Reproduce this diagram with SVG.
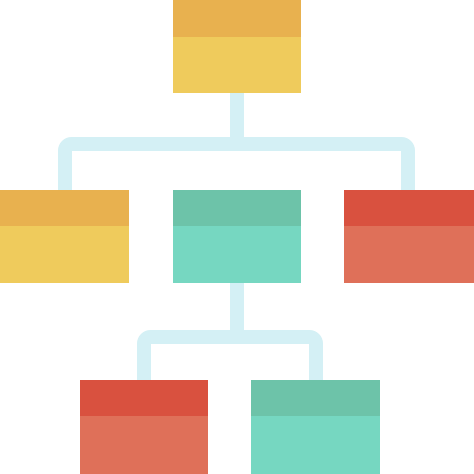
<svg xmlns="http://www.w3.org/2000/svg" width="474" height="474" viewBox="0 0 474 474">
<style>
.c{fill:none;stroke:#D4F0F5;stroke-width:14}
.oh{fill:#E8B14F}.yb{fill:#EFCB5C}
.th{fill:#6DC3A9}.tb{fill:#76D7C1}
.rh{fill:#D9513F}.rb{fill:#DF7059}
</style>
<rect width="474" height="474" fill="#FFFFFF"/>
<g id="connectors">
<path class="c" d="M237,93 V144"/>
<path class="c" d="M65,190 V150.5 A6.5,6.5 0 0 1 71.5,144 H401.5 A6.5,6.5 0 0 1 408,150.5 V190"/>
<path class="c" d="M237,283 V337"/>
<path class="c" d="M144,380 V343.5 A6.5,6.5 0 0 1 150.5,337 H309.5 A6.5,6.5 0 0 1 316,343.5 V380"/>
</g>
<g id="top">
<rect class="yb" x="173" y="0" width="128" height="93"/>
<rect class="oh" x="173" y="0" width="128" height="37"/>
</g>
<g id="left">
<rect class="yb" x="0" y="190" width="129" height="93"/>
<rect class="oh" x="0" y="190" width="129" height="36"/>
</g>
<g id="middle">
<rect class="tb" x="173" y="190" width="128" height="93"/>
<rect class="th" x="173" y="190" width="128" height="36"/>
</g>
<g id="right">
<rect class="rb" x="344" y="190" width="130" height="93"/>
<rect class="rh" x="344" y="190" width="130" height="36"/>
</g>
<g id="bottom-left">
<rect class="rb" x="80" y="380" width="128" height="94"/>
<rect class="rh" x="80" y="380" width="128" height="36"/>
</g>
<g id="bottom-right">
<rect class="tb" x="251" y="380" width="129" height="94"/>
<rect class="th" x="251" y="380" width="129" height="36"/>
</g>
</svg>
